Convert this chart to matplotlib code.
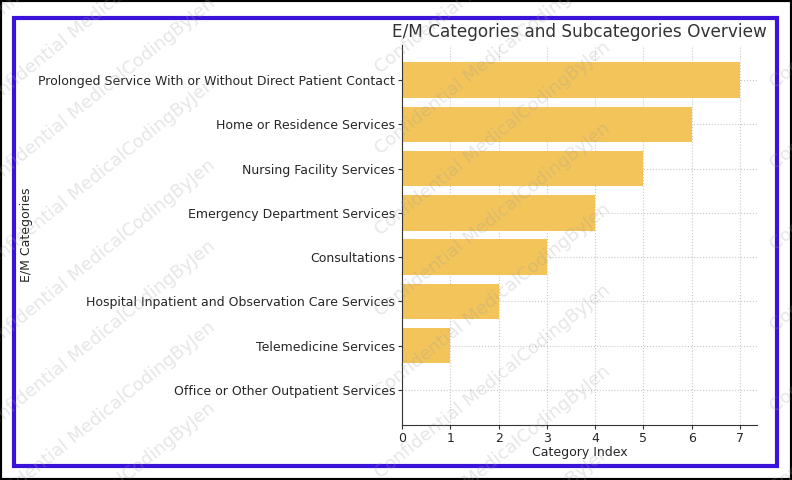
import matplotlib
matplotlib.use("Agg")
import matplotlib.pyplot as plt
from matplotlib.patches import Rectangle

categories = [
    "Office or Other Outpatient Services",
    "Telemedicine Services",
    "Hospital Inpatient and Observation Care Services",
    "Consultations",
    "Emergency Department Services",
    "Nursing Facility Services",
    "Home or Residence Services",
    "Prolonged Service With or Without Direct Patient Contact",
]
values = [0, 1, 2, 3, 4, 5, 6, 7]
watermark = "Confidential MedicalCodingByJen"

TXT = "#262626"
W, H = 792, 480

fig = plt.figure(figsize=(7.92, 4.8), dpi=100)
ax = fig.add_axes([0.5076, 0.1146, 0.4482, 0.7914])

ax.barh(categories, values, height=0.8, color="#F2C45A", zorder=2)
ax.set_axisbelow(True)
ax.grid(True, linestyle=":", color="#c8c8c8", linewidth=0.8)
ax.spines["top"].set_visible(False)
ax.spines["right"].set_visible(False)
for s in ("left", "bottom"):
    ax.spines[s].set_color("#333333")
ax.tick_params(labelsize=9, length=3, pad=2, colors="#333333", labelcolor=TXT)
ax.set_xlabel("Category Index", fontsize=9, labelpad=1, color=TXT)
ax.set_ylabel("E/M Categories", fontsize=9, color=TXT)
ax.set_title("E/M Categories and Subcategories Overview", fontsize=12.2,
             pad=6, color="#333333")

# watermark tiles (three diagonal columns)
cols = [(98, -44), (493, 0), (888, 15)]
for cx, off in cols:
    for k in range(-1, 8):
        cy = 58 + off + 81 * k
        fig.text(cx / W, 1 - cy / H, watermark, rotation=39, fontsize=13,
                 color="#a0a0a0", alpha=0.26, ha="center", va="center",
                 rotation_mode="anchor", zorder=10)

# blue frame and outer black border
fig.patches.append(Rectangle((14 / W, 1 - 466 / H), 763 / W, 448 / H,
                             transform=fig.transFigure, fill=False,
                             edgecolor="#3B12D9", linewidth=3))
fig.patches.append(Rectangle((0, 0), 1, 1, transform=fig.transFigure, fill=False,
                             edgecolor="black", linewidth=3))

fig.savefig("out.png", dpi=100)
